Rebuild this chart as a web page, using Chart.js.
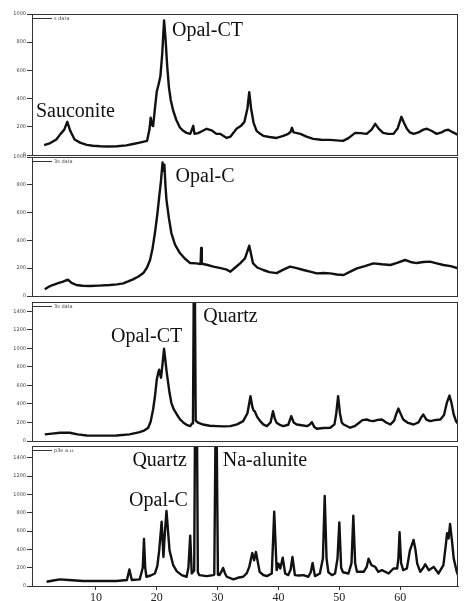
<!DOCTYPE html>
<html>
<head>
<meta charset="utf-8">
<script src="https://cdn.jsdelivr.net/npm/chart.js@4.4.1/dist/chart.umd.min.js"></script>
<style>
  html, body { margin: 0; padding: 0; background: #fff; }
  #wrap { position: relative; width: 474px; height: 601px; overflow: hidden; }
  #wrap canvas { position: absolute; left: 0; }
</style>
</head>
<body>
<div id="wrap">
  <canvas id="p1"></canvas>
  <canvas id="p2"></canvas>
  <canvas id="p3"></canvas>
  <canvas id="p4"></canvas>
</div>
<script>
// ---- data (2-theta in degrees, counts) ----

// panel 1: Sauconite + Opal-CT
const p1Theta = [1.5, 2.5, 3.5, 4.2, 4.8, 5.3, 5.8, 6.5, 7.4, 8.5, 9.5, 10.7, 12, 13.5, 15, 16.1, 17.2, 18.4, 18.8, 19.0,
  19.2, 19.4, 19.7, 20.0, 20.3, 20.6, 20.9, 21.2, 21.45, 21.7, 22.0, 22.3, 22.7, 23.2, 23.8, 24.4, 24.9, 25.5, 26.0, 26.2,
  26.8, 27.5, 28.2, 29.0, 29.8, 30.4, 31.5, 32.1, 32.6, 33.1, 33.8, 34.4, 34.9, 35.2, 35.5, 35.9, 36.4, 37.0, 37.5, 38.5,
  39.7, 40.8, 41.6, 42.0, 42.2, 42.5, 43.6, 44.6, 45.7, 47, 48.5, 49.5, 50.6, 51.5, 52.6, 53.5, 54.5, 55.3, 55.9, 56.5,
  57.2, 58.0, 58.9, 59.6, 60.2, 60.6, 61.1, 61.6, 62.2, 63.0, 63.8, 64.4, 65.2, 66.0, 66.8, 67.4, 67.9, 68.7, 69.5];
const p1Counts = [70, 85, 110, 150, 180, 235, 170, 110, 88, 72, 66, 62, 60, 62, 68, 78, 88, 100, 180, 265,
  215, 205, 330, 450, 500, 560, 720, 955, 820, 640, 480, 390, 314, 250, 195, 170, 157, 150, 207, 150,
  155, 170, 186, 175, 150, 150, 121, 130, 157, 186, 205, 235, 330, 445, 330, 230, 171, 150, 136, 128,
  121, 135, 150, 165, 193, 160, 150, 130, 114, 108, 107, 104, 100, 120, 157, 155, 150, 180, 221, 185,
  157, 150, 150, 190, 271, 230, 186, 160, 150, 160, 180, 186, 170, 150, 160, 175, 179, 160, 143];

// panel 2: Opal-C
const p2Theta = [1.6, 2.2, 2.9, 3.8, 4.6, 5.4, 6.0, 6.8, 7.8, 9.0, 10.5, 12.3, 13.5, 14.5, 15.3, 16.1, 17.0, 17.8, 18.4, 18.9,
  19.3, 19.7, 20.1, 20.4, 20.7, 20.95, 21.1, 21.25, 21.45, 21.6, 22.0, 22.4, 23.0, 23.8, 24.6, 25.5, 26.5, 27.2, 27.3, 27.4,
  28.2, 29.3, 30.5, 31.5, 32.1, 32.9, 33.7, 34.5, 35.2, 35.5, 35.8, 36.5, 37.5, 38.5, 39.7, 40.8, 41.9, 43.0, 44.1, 45.2,
  46.3, 47.4, 48.5, 49.6, 50.7, 51.8, 52.9, 54.2, 55.6, 57.0, 58.4, 59.6, 60.8, 61.7, 62.7, 63.8, 64.9, 66.0, 67.1, 68.3, 69.5];
const p2Counts = [48, 65, 79, 92, 103, 118, 95, 79, 74, 72, 75, 79, 84, 91, 105, 120, 140, 165, 205, 259,
  340, 453, 590, 714, 830, 960, 900, 945, 780, 690, 560, 453, 370, 309, 270, 237, 235, 230, 345, 232,
  225, 211, 200, 190, 175, 205, 235, 270, 362, 300, 237, 205, 187, 172, 165, 190, 211, 200, 187, 175,
  163, 165, 163, 155, 151, 175, 199, 215, 235, 228, 223, 240, 259, 245, 237, 245, 247, 235, 223, 215, 199];

// panel 3: Opal-CT + Quartz
const p3Theta = [1.6, 2.8, 4.1, 5.7, 7.0, 8.5, 10.5, 13.4, 15.5, 17.2, 18.0, 18.6, 19.0, 19.4, 19.7, 20.0, 20.25, 20.4, 20.55, 20.7,
  20.9, 21.2, 21.4, 21.6, 21.8, 22.1, 22.4, 22.8, 23.3, 23.8, 24.4, 24.9, 25.5, 25.8, 25.95, 26.17, 26.4, 26.8, 27.6, 28.7,
  29.9, 31.0, 32.1, 33.2, 34.2, 34.9, 35.4, 35.7, 35.9, 36.1, 36.5, 37.0, 37.5, 38.1, 38.7, 39.1, 39.4, 39.7, 40.2, 40.8,
  41.6, 42.1, 42.5, 43.0, 43.8, 44.7, 45.1, 45.5, 45.9, 46.3, 47.4, 48.5, 49.2, 49.5, 49.8, 50.1, 50.4, 50.7, 51.8, 52.5,
  53.1, 53.8, 54.5, 55.0, 55.6, 56.3, 57.0, 57.7, 58.4, 59.0, 59.4, 59.7, 60.1, 60.5, 61.3, 62.2, 63.0, 63.5, 63.8, 64.3,
  64.9, 65.7, 66.6, 67.2, 67.7, 68.1, 68.4, 68.8, 69.2, 69.6];
const p3Counts = [71, 80, 89, 89, 72, 60, 58, 60, 72, 96, 115, 143, 210, 340, 480, 662, 740, 770, 720, 683,
  800, 995, 880, 760, 662, 520, 412, 340, 286, 235, 197, 175, 161, 190, 220, 2600, 220, 197, 178, 165,
  161, 158, 161, 180, 214, 300, 483, 370, 330, 322, 260, 214, 180, 161, 200, 322, 240, 197, 175, 161,
  175, 268, 200, 178, 170, 161, 175, 203, 150, 132, 140, 143, 180, 300, 483, 300, 200, 178, 143, 160,
  189, 225, 232, 220, 214, 228, 232, 200, 178, 220, 300, 350, 290, 232, 195, 178, 200, 260, 286, 230,
  214, 225, 232, 280, 420, 490, 420, 286, 210, 178];

// panel 4: Opal-C + Quartz + Na-alunite
const p4Theta = [1.9, 3.0, 4.1, 5.5, 7.9, 10.5, 13.4, 15.1, 15.5, 15.9, 17.2, 17.7, 17.9, 18.1, 18.3, 19.0, 19.7, 20.1, 20.4, 20.8,
  21.1, 21.35, 21.6, 21.85, 22.1, 22.7, 23.3, 24.1, 24.9, 25.2, 25.5, 25.75, 26.15, 26.3, 26.45, 26.6, 26.75, 27.0, 28.2, 29.3,
  29.45, 29.75, 30.05, 30.3, 30.65, 30.9, 31.2, 31.5, 32.6, 33.3, 34.2, 34.8, 35.2, 35.7, 36.0, 36.3, 36.9, 37.5, 38.1, 38.9,
  39.3, 39.7, 40.0, 40.3, 40.7, 41.1, 41.6, 42.0, 42.3, 42.7, 43.4, 44.1, 44.9, 45.3, 45.6, 46.0, 46.8, 47.3, 47.6, 47.9,
  48.2, 48.8, 49.3, 49.7, 50.0, 50.3, 50.6, 51.5, 52.0, 52.3, 52.6, 52.9, 54.0, 54.5, 54.8, 55.3, 55.9, 56.4, 57.0, 58.1,
  58.9, 59.5, 59.7, 59.9, 60.15, 60.5, 61.1, 61.6, 62.2, 62.5, 62.8, 63.3, 63.8, 64.1, 64.7, 65.5, 66.3, 67.1, 67.5, 67.7,
  67.95, 68.2, 68.5, 68.8, 69.3, 69.5];
const p4Counts = [47, 60, 72, 65, 54, 55, 54, 65, 180, 65, 72, 200, 515, 200, 101, 115, 137, 220, 389, 702,
  317, 600, 821, 600, 389, 227, 160, 119, 101, 200, 551, 137, 170, 1900, 2100, 1900, 150, 119, 108, 119,
  125, 2400, 125, 119, 160, 198, 140, 101, 72, 90, 101, 140, 209, 360, 281, 371, 155, 120, 108, 137,
  813, 173, 245, 191, 310, 137, 119, 180, 317, 119, 115, 119, 101, 150, 252, 108, 137, 300, 983, 300,
  150, 119, 137, 300, 695, 200, 150, 137, 250, 767, 250, 155, 155, 210, 299, 227, 209, 155, 173, 137,
  191, 191, 300, 587, 250, 173, 191, 389, 504, 400, 245, 155, 200, 238, 173, 209, 137, 227, 450, 576,
  520, 677, 500, 299, 155, 119];

// phase labels: [text, 2-theta, counts] (left end of text baseline)
const p1Labels = [['Sauconite', 0.15, 271], ['Opal-CT', 22.5, 843]];
const p2Labels = [['Opal-C', 23.1, 822]];
const p3Labels = [['Opal-CT', 12.5, 1072], ['Quartz', 27.65, 1289]];
const p4Labels = [['Quartz', 16.0, 1315], ['Na-alunite', 30.85, 1315], ['Opal-C', 15.45, 870]];

// small legend captions in the top left corner of each panel
const legendTexts = ['s data', '3s data', '3s data', 'p3e a.u.'];

const xTicks = [10, 20, 30, 40, 50, 60];
const yTickStep = 200;
const yMaxes = [1000, 1000, 1500, 1530];

// ---- layout of the four stacked panels ----
const panels = [
  { id: 'p1', top: 0,   height: 159, padTop: 14, padBottom: 4, theta: p1Theta, counts: p1Counts, labels: p1Labels, showX: false },
  { id: 'p2', top: 153, height: 147, padTop: 4,  padBottom: 4, theta: p2Theta, counts: p2Counts, labels: p2Labels, showX: false },
  { id: 'p3', top: 298, height: 147, padTop: 4,  padBottom: 4, theta: p3Theta, counts: p3Counts, labels: p3Labels, showX: false },
  { id: 'p4', top: 442, height: 159, padTop: 4,  padBottom: 0, theta: p4Theta, counts: p4Counts, labels: p4Labels, showX: true }
];

// draws the closed frame, phase names and the little legend line
const decorPlugin = {
  id: 'decor',
  afterDatasetsDraw(chart, args, opts) {
    const { ctx, chartArea: a, scales } = chart;
    ctx.save();
    ctx.strokeStyle = '#333';
    ctx.lineWidth = 1;
    ctx.strokeRect(a.left + 0.5, a.top + 0.5, a.right - a.left - 1, a.bottom - a.top);

    // legend line + caption
    ctx.beginPath();
    ctx.moveTo(a.left + 1, a.top + 4.5);
    ctx.lineTo(a.left + 20, a.top + 4.5);
    ctx.stroke();
    ctx.fillStyle = '#444';
    ctx.font = '5px "DejaVu Sans"';
    ctx.textBaseline = 'middle';
    ctx.fillText(opts.legend, a.left + 22, a.top + 4.5);

    // phase names
    ctx.fillStyle = '#111';
    ctx.font = '20px "Liberation Serif"';
    ctx.textBaseline = 'alphabetic';
    ctx.textAlign = 'left';
    for (const [text, t, c] of opts.labels) {
      ctx.fillText(text, scales.x.getPixelForValue(t), scales.y.getPixelForValue(c));
    }
    ctx.restore();
  }
};

panels.forEach((p, i) => {
  const canvas = document.getElementById(p.id);
  canvas.width = 474;
  canvas.height = p.height;
  canvas.style.top = p.top + 'px';

  const xScale = {
    type: 'linear',
    display: p.showX,
    min: -0.5,
    max: 69.5,
    afterBuildTicks: s => { s.ticks = xTicks.map(v => ({ value: v })); },
    ticks: {
      maxRotation: 0,
      padding: 1,
      color: '#222',
      font: { family: 'Liberation Serif', size: 12 }
    },
    grid: { drawOnChartArea: false, tickLength: 4, color: '#333' },
    border: { color: '#333' }
  };
  if (p.showX) xScale.afterFit = s => { s.height = 15; };

  new Chart(canvas, {
    type: 'line',
    data: {
      datasets: [{
        data: p.theta.map((t, k) => ({ x: t, y: p.counts[k] })),
        borderColor: '#111',
        borderWidth: 2.4,
        borderJoinStyle: 'round',
        pointRadius: 0,
        tension: 0
      }]
    },
    options: {
      responsive: false,
      maintainAspectRatio: false,
      animation: false,
      events: [],
      layout: { padding: { top: p.padTop, bottom: p.padBottom, left: 0, right: 16 } },
      plugins: {
        legend: { display: false },
        tooltip: { enabled: false },
        decor: { labels: p.labels, legend: legendTexts[i] }
      },
      scales: {
        x: xScale,
        y: {
          min: 0,
          max: yMaxes[i],
          ticks: {
            stepSize: yTickStep,
            includeBounds: false,
            padding: 1,
            color: '#444',
            font: { family: 'DejaVu Sans', size: 5 },
            callback: v => String(v)
          },
          grid: { drawOnChartArea: false, tickLength: 5, color: '#333' },
          border: { color: '#333' },
          afterFit: s => { s.width = 32; }
        }
      }
    },
    plugins: [decorPlugin]
  });
});
</script>
</body>
</html>
